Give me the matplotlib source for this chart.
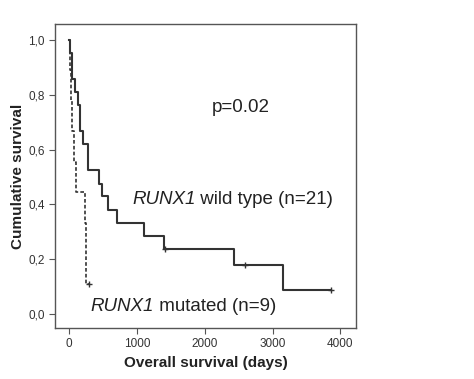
import matplotlib
matplotlib.use("Agg")
import matplotlib.pyplot as plt
from matplotlib.ticker import FuncFormatter

plt.rcParams['font.family'] = ['Liberation Sans', 'DejaVu Sans']

# Wild type RUNX1 (n=21)
wt_times = [0, 12, 40, 80, 125, 160, 200, 270, 440, 480, 565, 700, 1105, 1395, 2430, 3155, 3855]
wt_surv = [1.0, 0.952, 0.857, 0.810, 0.762, 0.667, 0.619, 0.524, 0.476, 0.429, 0.381, 0.333, 0.286, 0.238, 0.179, 0.089, 0.089]
wt_cens_t = [1420, 2600, 3855]
wt_cens_s = [0.238, 0.179, 0.089]

# Mutated RUNX1 (n=9)
mut_times = [0, 10, 30, 45, 75, 95, 240, 250, 290]
mut_surv = [1.0, 0.889, 0.778, 0.667, 0.556, 0.444, 0.333, 0.111, 0.111]
mut_cens_t = [290]
mut_cens_s = [0.111]

xticks = [0, 1000, 2000, 3000, 4000]
yticks = [0.0, 0.2, 0.4, 0.6, 0.8, 1.0]

fig = plt.figure(figsize=(4.74, 3.79), dpi=100)
ax = fig.add_axes([0.116, 0.1346, 0.635, 0.802])

lc = '#333333'
ax.step(wt_times, wt_surv, where='post', color=lc, lw=1.5)
ax.plot(wt_cens_t, wt_cens_s, '+', color=lc, ms=5, mew=1)
ax.step(mut_times, mut_surv, where='post', color=lc, lw=1.2, linestyle=(0, (2.2, 1.3)))
ax.plot(mut_cens_t, mut_cens_s, '+', color=lc, ms=5, mew=1)

ax.set_xlim(-210, 4230)
ax.set_ylim(-0.051, 1.058)
ax.set_xticks(xticks)
ax.set_yticks(yticks)
ax.yaxis.set_major_formatter(FuncFormatter(lambda v, p: f"{v:.1f}".replace('.', ',')))
ax.tick_params(direction='out', length=4, width=0.8, color='#555555', labelsize=8.5, labelcolor='#333333')
for s in ax.spines.values():
    s.set_color('#555555')
    s.set_linewidth(1.0)

ax.set_xlabel('Overall survival (days)', fontsize=11, fontweight='bold', color='#222222', labelpad=4)
ax.set_ylabel('Cumulative survival', fontsize=11, fontweight='bold', color='#222222', labelpad=2)

tc = '#222222'
fs = 13.5
ax.text(2532, 0.755, 'p=0.02', fontsize=fs, color=tc, ha='center', va='center')

t1 = ax.text(926, 0.385, 'RUNX1', fontsize=fs, color=tc, style='italic', ha='left', va='bottom')
ax.annotate(' wild type (n=21)', xy=(1, 0), xycoords=t1, fontsize=fs, color=tc, ha='left', va='bottom')

t2 = ax.text(320, -0.002, 'RUNX1', fontsize=fs, color=tc, style='italic', ha='left', va='bottom')
ax.annotate(' mutated (n=9)', xy=(1, 0), xycoords=t2, fontsize=fs, color=tc, ha='left', va='bottom')

fig.savefig('out.png', dpi=100)
